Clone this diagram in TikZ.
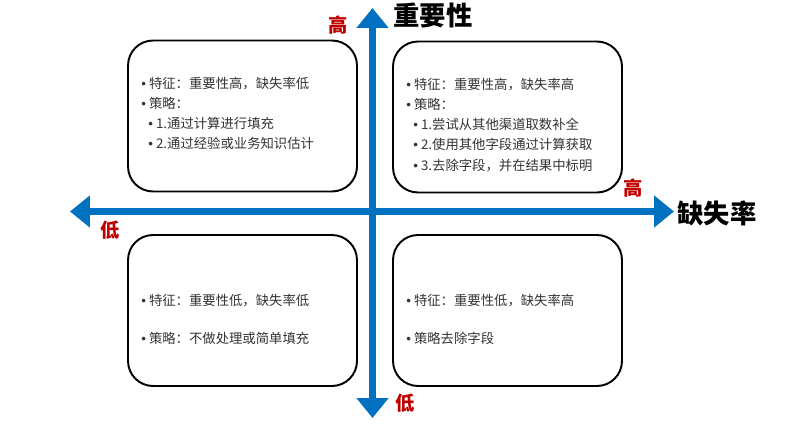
\documentclass[tikz,border=0pt]{standalone}
\usepackage{fontspec}
\setmainfont{Noto Sans CJK SC}
\newfontfamily\latinfont{Liberation Sans}
\usetikzlibrary{arrows.meta}
\definecolor{axisblue}{RGB}{0,112,192}
\definecolor{lvlred}{RGB}{192,0,0}
\newcommand{\bul}{{\latinfont •}\hspace{0.06cm}}
\newcommand{\sub}{\hspace{0.14cm}}

\begin{document}
\begin{tikzpicture}[
  x=0.02cm, y=-0.02cm,
  >={Triangle[length=0.4cm, width=0.62cm]},
  axis/.style={<->, line width=0.14cm, draw=axisblue},
  quad/.style={draw, line width=1.1pt, rounded corners=0.5cm, minimum width=4.58cm, minimum height=3.02cm},
  note/.style={align=left, anchor=west, inner sep=0pt, text=black!80, font=\fontsize{7.6}{11.4}\selectfont},
  level/.style={text=lvlred, font=\fontsize{11}{11}\selectfont\bfseries},
  axlabel/.style={font=\fontsize{15}{15}\selectfont\bfseries}
]
  \useasboundingbox (0,0) rectangle (798,443);

  % four quadrants
  \node[quad] (hilo) at (242.5,116) {};
  \node[quad] (hihi) at (507.5,117) {};
  \node[quad] (lolo) at (242.5,310.5) {};
  \node[quad] (lohi) at (507.5,310.5) {};

  \node[note] (hilotxt) at (141,113) {\bul 特征：重要性高，缺失率低\\ \bul 策略：\\ \sub\bul 1.通过计算进行填充\\ \sub\bul 2.通过经验或业务知识估计};
  \node[note] (hihitxt) at (406,125) {\bul 特征：重要性高，缺失率高\\ \bul 策略：\\ \sub\bul 1.尝试从其他渠道取数补全\\ \sub\bul 2.使用其他字段通过计算获取\\ \sub\bul 3.去除字段，并在结果中标明};
  \node[note] (lolotxt) at (141,319) {\bul 特征：重要性低，缺失率低\\[10.2pt] \bul 策略：不做处理或简单填充};
  \node[note] (lohitxt) at (406,319) {\bul 特征：重要性低，缺失率高\\[10.2pt] \bul 策略去除字段};

  % axes
  \coordinate (left) at (70,211.5);
  \coordinate (right) at (674,211.5);
  \coordinate (top) at (372.5,8);
  \coordinate (bottom) at (372.5,418);
  \draw[axis] (left) -- (right);
  \draw[axis] (bottom) -- (top);

  \node[axlabel] (ylab) at (433,15) {重要性};
  \node[axlabel] (xlab) at (717,213) {缺失率};
  \node[level] (yhi) at (338,25) {高};
  \node[level] (ylo) at (405,403) {低};
  \node[level] (xhi) at (633,188) {高};
  \node[level] (xlo) at (110,230) {低};
\end{tikzpicture}
\end{document}
